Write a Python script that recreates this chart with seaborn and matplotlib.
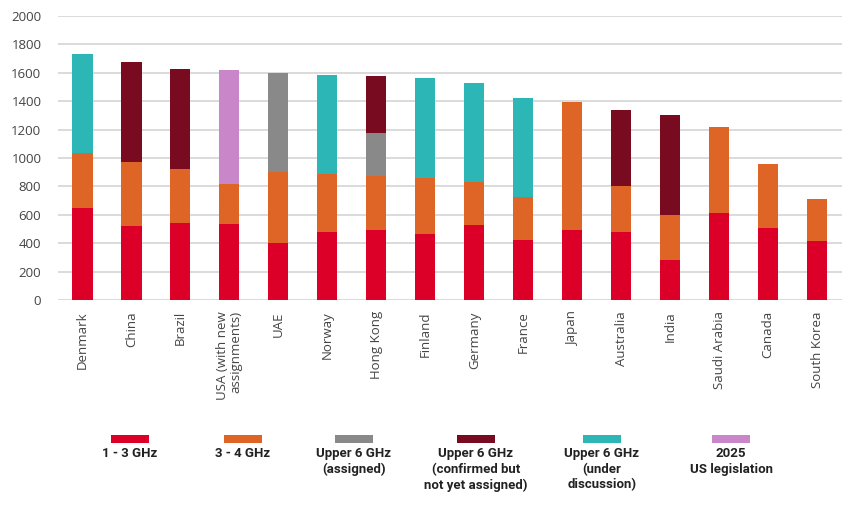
import seaborn as sns
import matplotlib.pyplot as plt
import matplotlib.patches as mpatches
import pandas as pd
import numpy as np

countries = ["Denmark", "China", "Brazil", "USA (with new\nassignments)", "UAE", "Norway",
             "Hong Kong", "Finland", "Germany", "France", "Japan", "Australia", "India",
             "Saudi Arabia", "Canada", "South Korea"]

band_1_3 = [650, 520, 545, 535, 400, 480, 495, 465, 530, 425, 495, 480, 280, 615, 505, 415]
band_3_4 = [385, 455, 380, 285, 500, 405, 380, 395, 300, 300, 900, 320, 320, 600, 450, 300]
upper6_assigned = [0, 0, 0, 0, 700, 0, 300, 0, 0, 0, 0, 0, 0, 0, 0, 0]
upper6_confirmed = [0, 700, 700, 0, 0, 0, 400, 0, 0, 0, 0, 540, 700, 0, 0, 0]
upper6_discussion = [700, 0, 0, 0, 0, 700, 0, 700, 700, 700, 0, 0, 0, 0, 0, 0]
us_legislation = [0, 0, 0, 800, 0, 0, 0, 0, 0, 0, 0, 0, 0, 0, 0, 0]

series_names = ["1 - 3 GHz", "3 - 4 GHz", "Upper 6 GHz\n(assigned)",
                "Upper 6 GHz\n(confirmed but\nnot yet assigned)",
                "Upper 6 GHz\n(under\ndiscussion)", "2025\nUS legislation"]
series_values = [band_1_3, band_3_4, upper6_assigned, upper6_confirmed,
                 upper6_discussion, us_legislation]
colors = ["#DC0029", "#DE6526", "#898989", "#790B21", "#2CB6B5", "#C987C9"]

y_ticks = list(range(0, 2001, 200))

df = pd.DataFrame({"country": countries})
cum = np.zeros(len(countries))
for name, vals in zip(series_names, series_values):
    cum = cum + np.array(vals)
    df[name] = cum

sns.set_theme(style="white")
plt.rcParams['font.family'] = ['Open Sans', 'DejaVu Sans']

fig = plt.figure(figsize=(8.58, 5.13), dpi=100)
ax = fig.add_axes([0.0676, 0.415, 0.9134, 0.554])

# draw the cumulative totals from the top layer down so lower layers cover them
for name, color in reversed(list(zip(series_names, colors))):
    sns.barplot(data=df, x="country", y=name, color=color, width=0.41,
                order=countries, saturation=1, ax=ax, linewidth=0)

ax.set_ylim(0, 2000)
ax.set_xlim(-0.5, len(countries) - 0.5)
ax.set_yticks(y_ticks)
ax.set_yticklabels([str(t) for t in y_ticks], fontsize=9.5, color="#444444")
ax.yaxis.grid(True, color="#d4d4d4", linewidth=1.2)
ax.set_axisbelow(True)
for s in ax.spines.values():
    s.set_visible(False)
ax.tick_params(axis="y", length=0, pad=12)
ax.tick_params(axis="x", length=0, pad=8)
ax.set_xticks(range(len(countries)))
ax.set_xticklabels(countries, rotation=90, fontsize=9.5, color="#444444")
plt.setp(ax.get_xticklabels(), multialignment="right", linespacing=1.0)
ax.set_xlabel("")
ax.set_ylabel("")

# legend: wide swatch above bold centred label
legend_x = [130, 243, 354, 476, 602, 731]
for cx, name, color in zip(legend_x, series_names, colors):
    fig.patches.append(mpatches.Rectangle(((cx - 19) / 858, 1 - 443 / 513), 38 / 858, 8 / 513,
                                          transform=fig.transFigure, facecolor=color,
                                          edgecolor="none"))
    fig.text(cx / 858, 1 - 447 / 513, name, ha="center", va="top", fontsize=9.5,
             fontweight="bold", family=["Roboto", "DejaVu Sans"], color="#222222",
             linespacing=1.25)

plt.savefig("out.png", dpi=100)
plt.close(fig)
